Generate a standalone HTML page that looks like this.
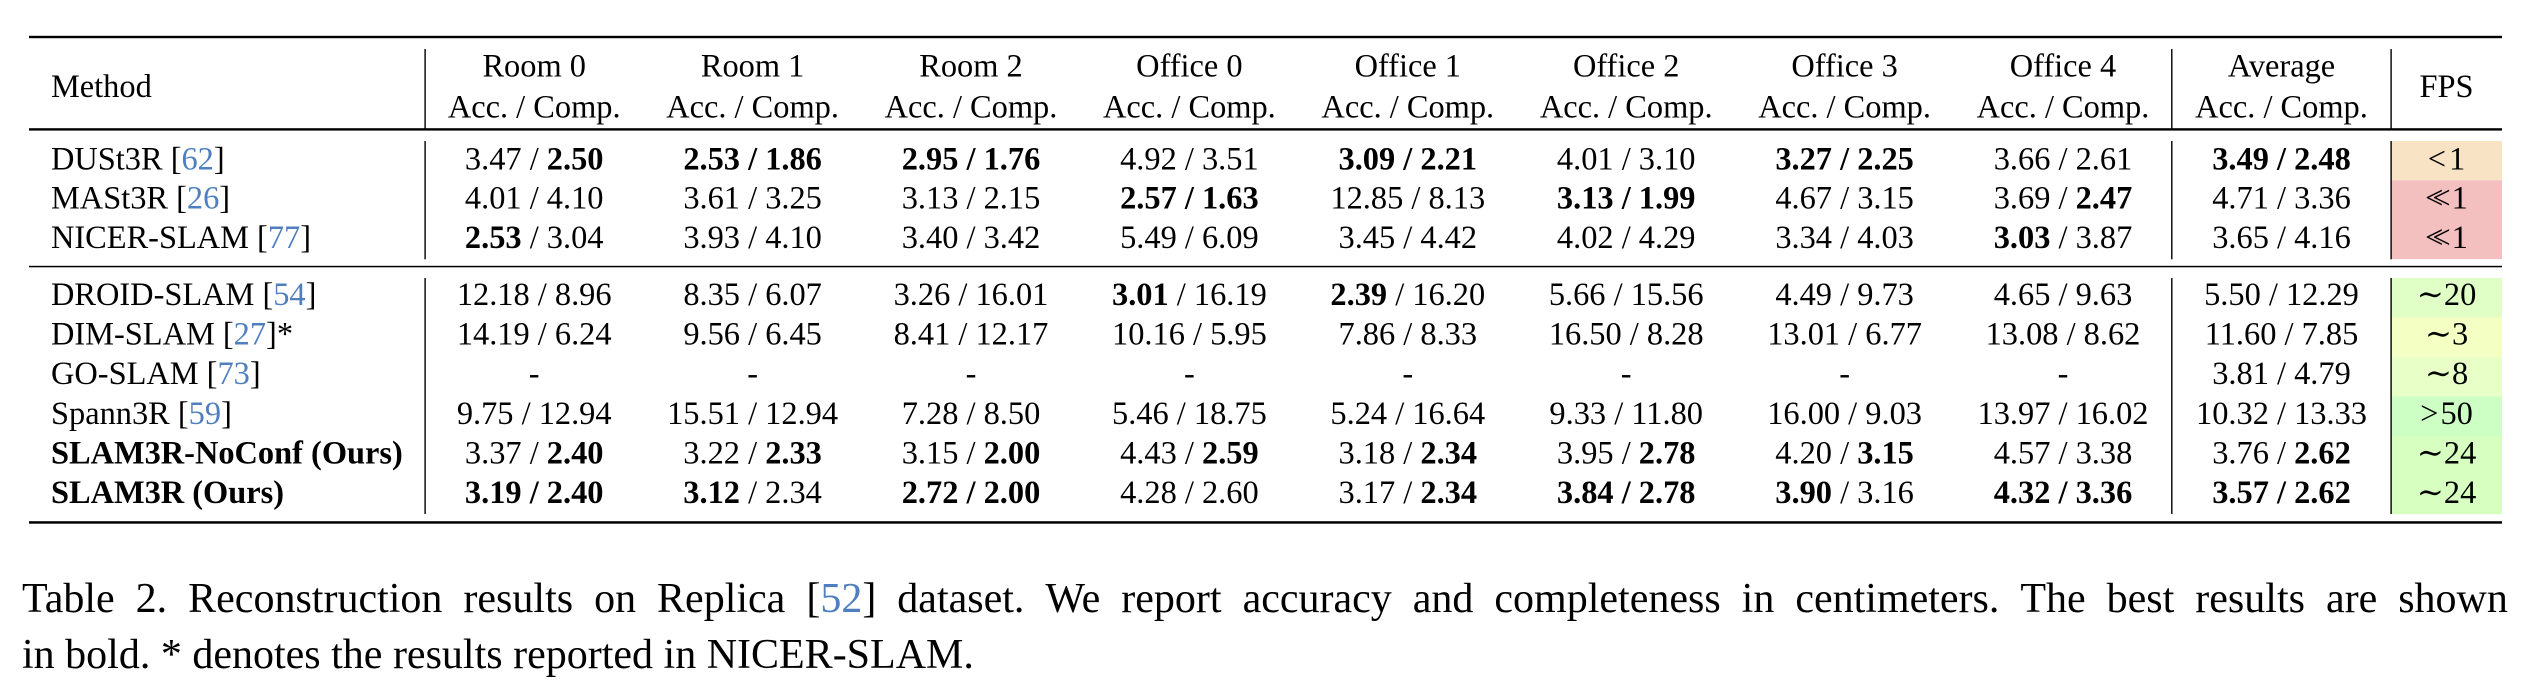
<!DOCTYPE html>
<html>
<head>
<meta charset="utf-8">
<style>
html,body{margin:0;padding:0;background:#fff;}
body{width:2533px;height:685px;overflow:hidden;position:relative;}
svg{position:absolute;left:0;top:0;}
svg text{font-family:"Liberation Serif","Times New Roman",serif;font-size:32.4px;fill:#000;text-anchor:middle;}
svg text.l{text-anchor:start;}
svg tspan.b{font-weight:bold;}
svg tspan.c{fill:#4f7fbf;}
svg text.sym{font-family:"Liberation Serif","DejaVu Serif",serif;}
.cap{position:absolute;left:22px;font-family:"Liberation Serif","Times New Roman",serif;font-size:42px;line-height:42px;color:#000;white-space:nowrap;}
.cap1{top:577.5px;width:2486px;display:flex;justify-content:space-between;}
.cap2{top:634.3px;}
.cite{color:#4f7fbf;}
</style>
</head>
<body>
<svg width="2533" height="685" viewBox="0 0 2533 685" xmlns="http://www.w3.org/2000/svg">
  <rect x="2391.5" y="141" width="110.5" height="39.3" fill="#f8e4c4"/>
  <rect x="2391.5" y="180.3" width="110.5" height="78.8" fill="#f4bfbf"/>
  <rect x="2391.5" y="278" width="110.5" height="39.2" fill="#e0ffc6"/>
  <rect x="2391.5" y="317.2" width="110.5" height="39.6" fill="#f3ffc3"/>
  <rect x="2391.5" y="356.8" width="110.5" height="39.8" fill="#e9ffc8"/>
  <rect x="2391.5" y="396.6" width="110.5" height="39.8" fill="#cdffc4"/>
  <rect x="2391.5" y="436.4" width="110.5" height="77.8" fill="#d6ffc0"/>

  <rect x="29" y="35.8" width="2473" height="2.4" fill="#000"/>
  <rect x="29" y="128.2" width="2473" height="2.4" fill="#000"/>
  <rect x="29" y="265.8" width="2473" height="1.5" fill="#000"/>
  <rect x="29" y="521.2" width="2473" height="2.5" fill="#000"/>

  <rect x="424.4" y="49" width="1.4" height="79.5" fill="#000"/>
  <rect x="424.4" y="141" width="1.4" height="118.3" fill="#000"/>
  <rect x="424.4" y="278" width="1.4" height="236" fill="#000"/>
  <rect x="2171.1" y="49" width="1.4" height="79.5" fill="#000"/>
  <rect x="2171.1" y="141" width="1.4" height="118.3" fill="#000"/>
  <rect x="2171.1" y="278" width="1.4" height="236" fill="#000"/>
  <rect x="2390.4" y="49" width="1.4" height="79.5" fill="#000"/>
  <rect x="2390.4" y="141" width="1.4" height="118.3" fill="#000"/>
  <rect x="2390.4" y="278" width="1.4" height="236" fill="#000"/>

  <text class="l" x="51" y="97">Method</text>
  <text x="534.2" y="76.7">Room 0</text>
  <text x="752.6" y="76.7">Room 1</text>
  <text x="971" y="76.7">Room 2</text>
  <text x="1189.4" y="76.7">Office 0</text>
  <text x="1407.8" y="76.7">Office 1</text>
  <text x="1626.2" y="76.7">Office 2</text>
  <text x="1844.6" y="76.7">Office 3</text>
  <text x="2063" y="76.7">Office 4</text>
  <text x="2281.5" y="76.7">Average</text>
  <text x="534.2" y="117.3">Acc. / Comp.</text>
  <text x="752.6" y="117.3">Acc. / Comp.</text>
  <text x="971" y="117.3">Acc. / Comp.</text>
  <text x="1189.4" y="117.3">Acc. / Comp.</text>
  <text x="1407.8" y="117.3">Acc. / Comp.</text>
  <text x="1626.2" y="117.3">Acc. / Comp.</text>
  <text x="1844.6" y="117.3">Acc. / Comp.</text>
  <text x="2063" y="117.3">Acc. / Comp.</text>
  <text x="2281.5" y="117.3">Acc. / Comp.</text>
  <text x="2446.5" y="97">FPS</text>

  <text class="l" x="51" y="169.3">DUSt3R [<tspan class="c">62</tspan>]</text>
  <text x="534.2" y="169.3">3.47 / <tspan class="b">2.50</tspan></text>
  <text x="752.6" y="169.3"><tspan class="b">2.53 / 1.86</tspan></text>
  <text x="971" y="169.3"><tspan class="b">2.95 / 1.76</tspan></text>
  <text x="1189.4" y="169.3">4.92 / 3.51</text>
  <text x="1407.8" y="169.3"><tspan class="b">3.09 / 2.21</tspan></text>
  <text x="1626.2" y="169.3">4.01 / 3.10</text>
  <text x="1844.6" y="169.3"><tspan class="b">3.27 / 2.25</tspan></text>
  <text x="2063" y="169.3">3.66 / 2.61</text>
  <text x="2281.5" y="169.3"><tspan class="b">3.49 / 2.48</tspan></text>
  <text class="sym" x="2446.5" y="169.3">&lt;<tspan dx="3">1</tspan></text>

  <text class="l" x="51" y="208.6">MASt3R [<tspan class="c">26</tspan>]</text>
  <text x="534.2" y="208.6">4.01 / 4.10</text>
  <text x="752.6" y="208.6">3.61 / 3.25</text>
  <text x="971" y="208.6">3.13 / 2.15</text>
  <text x="1189.4" y="208.6"><tspan class="b">2.57 / 1.63</tspan></text>
  <text x="1407.8" y="208.6">12.85 / 8.13</text>
  <text x="1626.2" y="208.6"><tspan class="b">3.13 / 1.99</tspan></text>
  <text x="1844.6" y="208.6">4.67 / 3.15</text>
  <text x="2063" y="208.6">3.69 / <tspan class="b">2.47</tspan></text>
  <text x="2281.5" y="208.6">4.71 / 3.36</text>
  <text x="2446.5" y="208.6">&lt;<tspan dx="-11">&lt;</tspan><tspan dx="1">1</tspan></text>

  <text class="l" x="51" y="247.9">NICER-SLAM [<tspan class="c">77</tspan>]</text>
  <text x="534.2" y="247.9"><tspan class="b">2.53</tspan> / 3.04</text>
  <text x="752.6" y="247.9">3.93 / 4.10</text>
  <text x="971" y="247.9">3.40 / 3.42</text>
  <text x="1189.4" y="247.9">5.49 / 6.09</text>
  <text x="1407.8" y="247.9">3.45 / 4.42</text>
  <text x="1626.2" y="247.9">4.02 / 4.29</text>
  <text x="1844.6" y="247.9">3.34 / 4.03</text>
  <text x="2063" y="247.9"><tspan class="b">3.03</tspan> / 3.87</text>
  <text x="2281.5" y="247.9">3.65 / 4.16</text>
  <text x="2446.5" y="247.9">&lt;<tspan dx="-11">&lt;</tspan><tspan dx="1">1</tspan></text>

  <text class="l" x="51" y="305">DROID-SLAM [<tspan class="c">54</tspan>]</text>
  <text x="534.2" y="305">12.18 / 8.96</text>
  <text x="752.6" y="305">8.35 / 6.07</text>
  <text x="971" y="305">3.26 / 16.01</text>
  <text x="1189.4" y="305"><tspan class="b">3.01</tspan> / 16.19</text>
  <text x="1407.8" y="305"><tspan class="b">2.39</tspan> / 16.20</text>
  <text x="1626.2" y="305">5.66 / 15.56</text>
  <text x="1844.6" y="305">4.49 / 9.73</text>
  <text x="2063" y="305">4.65 / 9.63</text>
  <text x="2281.5" y="305">5.50 / 12.29</text>
  <text class="sym" x="2446.5" y="305">∼20</text>

  <text class="l" x="51" y="344.6">DIM-SLAM [<tspan class="c">27</tspan>]*</text>
  <text x="534.2" y="344.6">14.19 / 6.24</text>
  <text x="752.6" y="344.6">9.56 / 6.45</text>
  <text x="971" y="344.6">8.41 / 12.17</text>
  <text x="1189.4" y="344.6">10.16 / 5.95</text>
  <text x="1407.8" y="344.6">7.86 / 8.33</text>
  <text x="1626.2" y="344.6">16.50 / 8.28</text>
  <text x="1844.6" y="344.6">13.01 / 6.77</text>
  <text x="2063" y="344.6">13.08 / 8.62</text>
  <text x="2281.5" y="344.6">11.60 / 7.85</text>
  <text class="sym" x="2446.5" y="344.6">∼3</text>

  <text class="l" x="51" y="384.2">GO-SLAM [<tspan class="c">73</tspan>]</text>
  <text x="534.2" y="384.2">-</text>
  <text x="752.6" y="384.2">-</text>
  <text x="971" y="384.2">-</text>
  <text x="1189.4" y="384.2">-</text>
  <text x="1407.8" y="384.2">-</text>
  <text x="1626.2" y="384.2">-</text>
  <text x="1844.6" y="384.2">-</text>
  <text x="2063" y="384.2">-</text>
  <text x="2281.5" y="384.2">3.81 / 4.79</text>
  <text class="sym" x="2446.5" y="384.2">∼8</text>

  <text class="l" x="51" y="423.8">Spann3R [<tspan class="c">59</tspan>]</text>
  <text x="534.2" y="423.8">9.75 / 12.94</text>
  <text x="752.6" y="423.8">15.51 / 12.94</text>
  <text x="971" y="423.8">7.28 / 8.50</text>
  <text x="1189.4" y="423.8">5.46 / 18.75</text>
  <text x="1407.8" y="423.8">5.24 / 16.64</text>
  <text x="1626.2" y="423.8">9.33 / 11.80</text>
  <text x="1844.6" y="423.8">16.00 / 9.03</text>
  <text x="2063" y="423.8">13.97 / 16.02</text>
  <text x="2281.5" y="423.8">10.32 / 13.33</text>
  <text class="sym" x="2446.5" y="423.8">&gt;<tspan dx="2">50</tspan></text>

  <text class="l" x="51" y="463.4"><tspan class="b">SLAM3R-NoConf (Ours)</tspan></text>
  <text x="534.2" y="463.4">3.37 / <tspan class="b">2.40</tspan></text>
  <text x="752.6" y="463.4">3.22 / <tspan class="b">2.33</tspan></text>
  <text x="971" y="463.4">3.15 / <tspan class="b">2.00</tspan></text>
  <text x="1189.4" y="463.4">4.43 / <tspan class="b">2.59</tspan></text>
  <text x="1407.8" y="463.4">3.18 / <tspan class="b">2.34</tspan></text>
  <text x="1626.2" y="463.4">3.95 / <tspan class="b">2.78</tspan></text>
  <text x="1844.6" y="463.4">4.20 / <tspan class="b">3.15</tspan></text>
  <text x="2063" y="463.4">4.57 / 3.38</text>
  <text x="2281.5" y="463.4">3.76 / <tspan class="b">2.62</tspan></text>
  <text class="sym" x="2446.5" y="463.4">∼24</text>

  <text class="l" x="51" y="503"><tspan class="b">SLAM3R (Ours)</tspan></text>
  <text x="534.2" y="503"><tspan class="b">3.19 / 2.40</tspan></text>
  <text x="752.6" y="503"><tspan class="b">3.12</tspan> / 2.34</text>
  <text x="971" y="503"><tspan class="b">2.72 / 2.00</tspan></text>
  <text x="1189.4" y="503">4.28 / 2.60</text>
  <text x="1407.8" y="503">3.17 / <tspan class="b">2.34</tspan></text>
  <text x="1626.2" y="503"><tspan class="b">3.84 / 2.78</tspan></text>
  <text x="1844.6" y="503"><tspan class="b">3.90</tspan> / 3.16</text>
  <text x="2063" y="503"><tspan class="b">4.32 / 3.36</tspan></text>
  <text x="2281.5" y="503"><tspan class="b">3.57 / 2.62</tspan></text>
  <text class="sym" x="2446.5" y="503">∼24</text>
</svg>

<div class="cap cap1"><span>Table</span><span>2.</span><span>Reconstruction</span><span>results</span><span>on</span><span>Replica</span><span>[<span class="cite">52</span>]</span><span>dataset.</span><span>We</span><span>report</span><span>accuracy</span><span>and</span><span>completeness</span><span>in</span><span>centimeters.</span><span>The</span><span>best</span><span>results</span><span>are</span><span>shown</span></div>
<div class="cap cap2">in bold. * denotes the results reported in NICER-SLAM.</div>
</body>
</html>
